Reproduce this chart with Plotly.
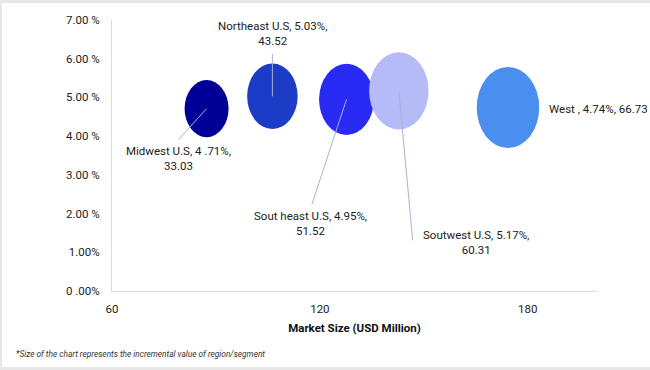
import math
import plotly.graph_objects as go

# ---------------- data ----------------
regions = ["Midwest U.S", "Northeast U.S", "Southeast U.S", "Southwest U.S", "West"]
market_size = [87.3, 106.3, 127.7, 142.8, 174.3]          # USD Million (x)
growth = [4.71, 5.03, 4.95, 5.17, 4.74]                     # % (y)
incremental = [33.03, 43.52, 51.52, 60.31, 66.73]           # bubble size value
label_texts = [
    "Midwest U.S, 4 .71%,<br>33.03",
    "Northeast U.S, 5.03%,<br>43.52",
    "Sout heast U.S, 4.95%,<br>51.52",
    "Soutwest U.S, 5.17%,<br>60.31",
    "West , 4.74%, 66.73",
]
x_tickvals = [60, 120, 180]
y_tickvals = [0, 1, 2, 3, 4, 5, 6, 7]
y_ticktext = ["0 .00%", "1.00%", "2.00 %", "3.00 %", "4.00 %", "5.00 %", "6.00 %", "7.00 %"]
x_title = "Market Size (USD Million)"
footnote = "*Size of the chart represents the incremental value of region/segment"

# ---------------- style ----------------
colors = ["#000096", "#1c3cc8", "#2a2af5", "#b4bbf7", "#4a8ef0"]
FONT = "Roboto, Liberation Sans, sans-serif"
FS = 11.5
TXT = "#222222"
LEAD = "#a7b2d6"
AXIS = "#d3dbec"
RY_K = 4.97      # px per sqrt(value), vertical radius
ASPECT = 0.77    # horizontal squeeze
# text offsets from bubble centre (px, right/down), leader ends (px)
text_off = [(-28, 50, "center"), (0, -63, "center"), (-36, 124, "center"),
            (77, 152, "center"), (39, 1.5, "left")]
lead_off = [(-29, 32), (0, -44), (-35, 106), (14, 151), None]

L, R, T, B = 112, 53, 20, 79
W, H = 650, 370
PW, PH = W - L - R, H - T - B

fig = go.Figure()
fig.add_trace(go.Scatter(
    x=market_size, y=growth, mode="markers",
    marker=dict(size=1, opacity=0), text=regions,
    customdata=incremental,
    hovertemplate="%{text}<br>%{x}<br>%{y:.2f}%<br>%{customdata}<extra></extra>",
    showlegend=False,
))

shapes = []
# figure frame (light grey border)
shapes.append(dict(type="rect", xref="paper", yref="paper", layer="below",
                   x0=(2 - L) / PW, x1=(W - L) / PW,
                   y0=(PH - (367 - T)) / PH, y1=(PH - (3 - T)) / PH,
                   fillcolor="white", line=dict(width=0)))
for xv, yv, v, c in zip(market_size, growth, incremental, colors):
    ry = RY_K * math.sqrt(v)
    rx = ry * ASPECT
    shapes.append(dict(type="circle", xref="x", yref="y",
                       xsizemode="pixel", ysizemode="pixel",
                       xanchor=xv, yanchor=yv,
                       x0=-rx, x1=rx, y0=-ry, y1=ry,
                       fillcolor=c, line=dict(width=0)))

annotations = []
for xv, yv, lo in zip(market_size, growth, lead_off):
    if lo is None:
        continue
    annotations.append(dict(x=xv, y=yv, xref="x", yref="y", text="",
                            showarrow=True, arrowhead=0, arrowwidth=1,
                            arrowcolor=LEAD, ax=lo[0], ay=lo[1]))
for xv, yv, t, (dx, dy, anc) in zip(market_size, growth, label_texts, text_off):
    annotations.append(dict(x=xv, y=yv, xref="x", yref="y", text=t,
                            showarrow=False, xshift=dx, yshift=-dy,
                            xanchor=anc, yanchor="middle", align="center",
                            font=dict(family=FONT, size=FS, color=TXT)))
annotations.append(dict(xref="paper", yref="paper",
                        x=(14 - L) / PW, y=(PH - (354 - T)) / PH,
                        xanchor="left", yanchor="middle", showarrow=False,
                        text="<i>" + footnote + "</i>",
                        font=dict(family=FONT, size=8.3, color="#333333")))

fig.update_layout(
    width=W, height=H,
    margin=dict(l=L, r=R, t=T, b=B),
    paper_bgcolor="#e8e8e8",
    plot_bgcolor="white",
    font=dict(family=FONT, size=FS, color=TXT),
    shapes=shapes,
    annotations=annotations,
    xaxis=dict(range=[60, 200], tickvals=x_tickvals, showgrid=False, zeroline=False,
               showline=True, linecolor=AXIS, linewidth=1, ticks="",
               ticklabelstandoff=7,
               tickfont=dict(family=FONT, size=FS, color=TXT),
               title=dict(text="<b>" + x_title + "</b>", standoff=9,
                          font=dict(family=FONT, size=FS, color="#111111"))),
    yaxis=dict(range=[0, 7], tickvals=y_tickvals, ticktext=y_ticktext,
               showgrid=False, zeroline=False, showline=True, linecolor=AXIS,
               linewidth=1, ticks="", ticklabelstandoff=9,
               tickfont=dict(family=FONT, size=FS, color=TXT)),
)

fig.write_html("out.html", config={"displayModeBar": False},
               post_script="document.body.style.margin='0';document.body.style.padding='0';")
